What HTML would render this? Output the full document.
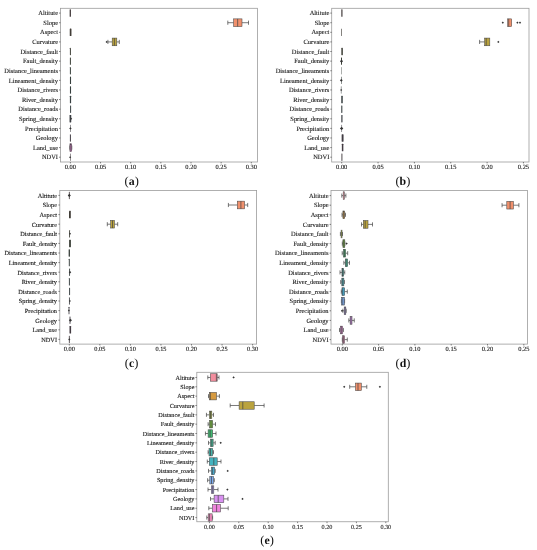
<!DOCTYPE html>
<html lang="en">
<head>
<meta charset="utf-8">
<title>Feature importance box plots</title>
<style>
html,body{margin:0;padding:0;background:#fff;}
body{width:537px;height:550px;overflow:hidden;}
svg{display:block;font-family:"Liberation Serif","DejaVu Serif",serif;text-rendering:geometricPrecision;}
.fr{fill:none;stroke:#9c9c9c;stroke-width:0.8;}
.tk{fill:none;stroke:#333;stroke-width:0.6;}
.w{fill:none;stroke:#404040;stroke-width:0.7;}
.b{stroke:#484848;stroke-width:0.55;}
.o{fill:#333;stroke:none;}
.yl{fill:#1a1a1a;text-anchor:end;stroke:#1a1a1a;stroke-width:0.12;}
.xl{fill:#1a1a1a;text-anchor:middle;stroke:#1a1a1a;stroke-width:0.12;}
.cap{font-size:12.4px;fill:#111;text-anchor:middle;}
.bd{font-weight:bold;font-size:11.8px;}
</style>
</head>
<body>
<svg width="537" height="550" viewBox="0 0 537 550">
<rect width="537" height="550" fill="#fff"/>
<g class="panel">
<rect x="69.65" y="9.36" width="1.3" height="7.48" rx="0.4" fill="#433c3d" opacity="1"/>
<path class="w" d="M227.8 22.71H233.6M227.8 20.63V24.78"/><path class="w" d="M242 22.71H248.5M248.5 20.63V24.78"/><rect class="b" x="233.6" y="18.87" width="8.4" height="7.68" fill="#f0906c"/><path class="w" d="M237.65 18.87V26.55"/>
<rect x="69.75" y="28.57" width="1.7" height="7.48" rx="0.4" fill="#413d37" opacity="1"/>
<path class="w" d="M107.9 41.92H112.2M107.9 39.85V44"/><path class="w" d="M116.8 41.92H119.3M119.3 39.85V44"/><rect class="b" x="112.2" y="38.08" width="4.6" height="7.68" fill="#baa33e"/><path class="w" d="M114.4 38.08V45.76"/><rect class="o" x="105.9" y="41.12" width="1.6" height="1.6" transform="rotate(45 106.7 41.92)"/>
<rect x="69.9" y="47.79" width="1" height="7.48" rx="0.4" fill="#3d3e36" opacity="1"/>
<rect x="69.9" y="57.39" width="1" height="7.48" rx="0.4" fill="#3a3f37" opacity="1"/>
<rect x="69.9" y="67" width="1" height="7.48" rx="0.4" fill="#373f3a" opacity="1"/>
<rect x="69.95" y="76.6" width="1.1" height="7.48" rx="0.4" fill="#373f3d" opacity="1"/>
<rect x="69.95" y="86.21" width="1.1" height="7.48" rx="0.4" fill="#373f3e" opacity="1"/>
<rect x="69.9" y="95.82" width="1.2" height="7.48" rx="0.4" fill="#373f40" opacity="1"/>
<rect x="70.1" y="105.42" width="1" height="7.48" rx="0.4" fill="#373f41" opacity="1"/>
<rect x="69.55" y="115.03" width="1.7" height="7.48" rx="0.4" fill="#3b3e43" opacity="1"/><rect class="o" x="70.35" y="118.02" width="1.5" height="1.5" transform="rotate(45 71.1 118.77)"/>
<rect x="70.05" y="124.64" width="0.7" height="7.48" rx="0.4" fill="#3f3d43" opacity="0.8"/><rect class="o" x="69.55" y="127.53" width="1.7" height="1.7" transform="rotate(45 70.4 128.38)"/>
<rect x="69.9" y="134.24" width="1" height="7.48" rx="0.4" fill="#413c43" opacity="1"/>
<path class="w" d="M69.8 147.59H69.9M69.8 145.52V149.67"/><path class="w" d="M71.7 147.59H71.8M71.8 145.52V149.67"/><rect class="b" x="69.9" y="143.75" width="1.8" height="7.68" fill="#ef84dc"/><path class="w" d="M70.8 143.75V151.43"/>
<rect x="70.05" y="153.45" width="0.7" height="7.48" rx="0.4" fill="#433c40" opacity="0.8"/><rect class="o" x="69.35" y="156.45" width="1.5" height="1.5" transform="rotate(45 70.1 157.2)"/>
<rect class="fr" x="60.4" y="8.3" width="197.15" height="153.7"/>
<text class="yl" x="58" y="15.25" font-size="6.45">Altitute</text>
<text class="yl" x="58" y="24.86" font-size="6.45">Slope</text>
<text class="yl" x="58" y="34.47" font-size="6.45">Aspect</text>
<text class="yl" x="58" y="44.07" font-size="6.45">Curvature</text>
<text class="yl" x="58" y="53.68" font-size="6.45">Distance_fault</text>
<text class="yl" x="58" y="63.28" font-size="6.45">Fault_density</text>
<text class="yl" x="58" y="72.89" font-size="6.45">Distance_lineaments</text>
<text class="yl" x="58" y="82.5" font-size="6.45">Lineament_density</text>
<text class="yl" x="58" y="92.1" font-size="6.45">Distance_rivers</text>
<text class="yl" x="58" y="101.71" font-size="6.45">River_density</text>
<text class="yl" x="58" y="111.32" font-size="6.45">Distance_roads</text>
<text class="yl" x="58" y="120.92" font-size="6.45">Spring_density</text>
<text class="yl" x="58" y="130.53" font-size="6.45">Precipitation</text>
<text class="yl" x="58" y="140.13" font-size="6.45">Geology</text>
<text class="yl" x="58" y="149.74" font-size="6.45">Land_use</text>
<text class="yl" x="58" y="159.35" font-size="6.45">NDVI</text>
<text class="xl" x="70.4" y="168.6" font-size="6.45">0.00</text>
<text class="xl" x="100.55" y="168.6" font-size="6.45">0.05</text>
<text class="xl" x="130.7" y="168.6" font-size="6.45">0.10</text>
<text class="xl" x="160.85" y="168.6" font-size="6.45">0.15</text>
<text class="xl" x="191" y="168.6" font-size="6.45">0.20</text>
<text class="xl" x="221.15" y="168.6" font-size="6.45">0.25</text>
<text class="xl" x="251.3" y="168.6" font-size="6.45">0.30</text>
<path class="tk" d="M60.4 13.1h-1.4M60.4 22.71h-1.4M60.4 32.32h-1.4M60.4 41.92h-1.4M60.4 51.53h-1.4M60.4 61.13h-1.4M60.4 70.74h-1.4M60.4 80.35h-1.4M60.4 89.95h-1.4M60.4 99.56h-1.4M60.4 109.17h-1.4M60.4 118.77h-1.4M60.4 128.38h-1.4M60.4 137.98h-1.4M60.4 147.59h-1.4M60.4 157.2h-1.4M70.4 162v1.4M100.55 162v1.4M130.7 162v1.4M160.85 162v1.4M191 162v1.4M221.15 162v1.4M251.3 162v1.4"/>
<text class="cap" x="131.7" y="185.1">(<tspan class="bd">a</tspan>)</text>
</g>
<g class="panel">
<rect x="341.3" y="9.36" width="1.2" height="7.48" rx="0.4" fill="#433c3d" opacity="1"/>
<rect class="b" x="507.7" y="18.87" width="4" height="7.68" fill="#f0906c"/><path class="w" d="M508.7 18.87V26.55"/><rect class="o" x="502" y="21.91" width="1.6" height="1.6" transform="rotate(45 502.8 22.71)"/><rect class="o" x="516.6" y="21.91" width="1.6" height="1.6" transform="rotate(45 517.4 22.71)"/><rect class="o" x="519.2" y="21.91" width="1.6" height="1.6" transform="rotate(45 520 22.71)"/>
<rect x="341.1" y="28.57" width="0.8" height="7.48" rx="0.4" fill="#413d37" opacity="0.8"/>
<path class="w" d="M479.6 41.92H484.7M479.6 39.85V44"/><rect class="b" x="484.7" y="38.08" width="5.1" height="7.68" fill="#baa33e"/><path class="w" d="M486.2 38.08V45.76"/><rect class="o" x="497.5" y="41.12" width="1.6" height="1.6" transform="rotate(45 498.3 41.92)"/>
<rect x="341.35" y="47.79" width="1.5" height="7.48" rx="0.4" fill="#3d3e36" opacity="1"/>
<rect x="341" y="57.39" width="1" height="7.48" rx="0.4" fill="#3a3f37" opacity="1"/><rect class="o" x="340.4" y="60.03" width="2.2" height="2.2" transform="rotate(45 341.5 61.13)"/>
<rect x="341.2" y="67" width="0.6" height="7.48" rx="0.4" fill="#373f3a" opacity="0.7"/>
<rect x="341.05" y="76.6" width="0.7" height="7.48" rx="0.4" fill="#373f3d" opacity="0.8"/><rect class="o" x="340.3" y="79.35" width="2" height="2" transform="rotate(45 341.3 80.35)"/>
<rect x="340.85" y="86.21" width="0.7" height="7.48" rx="0.4" fill="#373f3e" opacity="0.7"/><rect class="o" x="340.5" y="89.25" width="1.4" height="1.4" transform="rotate(45 341.2 89.95)"/>
<rect x="341.25" y="95.82" width="1.5" height="7.48" rx="0.4" fill="#373f40" opacity="1"/>
<rect x="341.25" y="105.42" width="1.1" height="7.48" rx="0.4" fill="#373f41" opacity="1"/>
<rect x="341.3" y="115.03" width="1.2" height="7.48" rx="0.4" fill="#3b3e43" opacity="1"/>
<rect x="341.35" y="124.64" width="0.7" height="7.48" rx="0.4" fill="#3f3d43" opacity="0.8"/><rect class="o" x="340.4" y="127.18" width="2.4" height="2.4" transform="rotate(45 341.6 128.38)"/>
<rect x="341.65" y="134.24" width="1.9" height="7.48" rx="0.4" fill="#413c43" opacity="1"/>
<rect x="341.85" y="143.85" width="1.5" height="7.48" rx="0.4" fill="#433b42" opacity="1"/>
<rect x="341.35" y="153.45" width="1.1" height="7.48" rx="0.4" fill="#433c40" opacity="0.85"/>
<rect class="fr" x="331.7" y="8.3" width="197.3" height="153.7"/>
<text class="yl" x="329.3" y="15.25" font-size="6.45">Altitute</text>
<text class="yl" x="329.3" y="24.86" font-size="6.45">Slope</text>
<text class="yl" x="329.3" y="34.47" font-size="6.45">Aspect</text>
<text class="yl" x="329.3" y="44.07" font-size="6.45">Curvature</text>
<text class="yl" x="329.3" y="53.68" font-size="6.45">Distance_fault</text>
<text class="yl" x="329.3" y="63.28" font-size="6.45">Fault_density</text>
<text class="yl" x="329.3" y="72.89" font-size="6.45">Distance_lineaments</text>
<text class="yl" x="329.3" y="82.5" font-size="6.45">Lineament_density</text>
<text class="yl" x="329.3" y="92.1" font-size="6.45">Distance_rivers</text>
<text class="yl" x="329.3" y="101.71" font-size="6.45">River_density</text>
<text class="yl" x="329.3" y="111.32" font-size="6.45">Distance_roads</text>
<text class="yl" x="329.3" y="120.92" font-size="6.45">Spring_density</text>
<text class="yl" x="329.3" y="130.53" font-size="6.45">Precipitation</text>
<text class="yl" x="329.3" y="140.13" font-size="6.45">Geology</text>
<text class="yl" x="329.3" y="149.74" font-size="6.45">Land_use</text>
<text class="yl" x="329.3" y="159.35" font-size="6.45">NDVI</text>
<text class="xl" x="341.7" y="168.8" font-size="6.45">0.00</text>
<text class="xl" x="378.05" y="168.8" font-size="6.45">0.05</text>
<text class="xl" x="414.4" y="168.8" font-size="6.45">0.10</text>
<text class="xl" x="450.75" y="168.8" font-size="6.45">0.15</text>
<text class="xl" x="487.1" y="168.8" font-size="6.45">0.20</text>
<text class="xl" x="523.45" y="168.8" font-size="6.45">0.25</text>
<path class="tk" d="M331.7 13.1h-1.4M331.7 22.71h-1.4M331.7 32.32h-1.4M331.7 41.92h-1.4M331.7 51.53h-1.4M331.7 61.13h-1.4M331.7 70.74h-1.4M331.7 80.35h-1.4M331.7 89.95h-1.4M331.7 99.56h-1.4M331.7 109.17h-1.4M331.7 118.77h-1.4M331.7 128.38h-1.4M331.7 137.98h-1.4M331.7 147.59h-1.4M331.7 157.2h-1.4M341.7 162v1.4M378.05 162v1.4M414.4 162v1.4M450.75 162v1.4M487.1 162v1.4M523.45 162v1.4"/>
<text class="cap" x="402.9" y="185">(<tspan class="bd">b</tspan>)</text>
</g>
<g class="panel">
<rect x="68.88" y="191.66" width="0.85" height="7.48" rx="0.4" fill="#433c3d" opacity="1"/><rect class="o" x="68.2" y="194.3" width="2.2" height="2.2" transform="rotate(45 69.3 195.4)"/>
<path class="w" d="M228.4 205H237.3M228.4 202.93V207.07"/><path class="w" d="M244.6 205H247.7M247.7 202.93V207.07"/><rect class="b" x="237.3" y="201.16" width="7.3" height="7.68" fill="#f0906c"/><path class="w" d="M240.9 201.16V208.84"/>
<rect x="69" y="210.86" width="1.8" height="7.48" rx="0.4" fill="#413d37" opacity="1"/>
<path class="w" d="M107.3 224.2H110.7M107.3 222.13V226.27"/><path class="w" d="M114.4 224.2H117.7M117.7 222.13V226.27"/><rect class="b" x="110.7" y="220.36" width="3.7" height="7.68" fill="#baa33e"/><path class="w" d="M112.5 220.36V228.04"/>
<rect x="69.17" y="230.06" width="0.85" height="7.48" rx="0.4" fill="#3d3e36" opacity="1"/><rect class="o" x="69.25" y="233.05" width="1.5" height="1.5" transform="rotate(45 70 233.8)"/>
<rect x="69.1" y="239.66" width="1.8" height="7.48" rx="0.4" fill="#3a3f37" opacity="1"/>
<rect x="68.65" y="249.26" width="1.3" height="7.48" rx="0.4" fill="#373f3a" opacity="1"/>
<rect x="68.83" y="258.86" width="0.95" height="7.48" rx="0.4" fill="#373f3d" opacity="1"/>
<rect x="69.15" y="268.46" width="0.9" height="7.48" rx="0.4" fill="#373f3e" opacity="1"/><rect class="o" x="69.1" y="271.3" width="1.8" height="1.8" transform="rotate(45 70 272.2)"/>
<rect x="68.92" y="278.06" width="0.95" height="7.48" rx="0.4" fill="#373f40" opacity="1"/>
<rect x="69.12" y="287.66" width="0.95" height="7.48" rx="0.4" fill="#373f41" opacity="1"/>
<rect x="68.97" y="297.26" width="0.85" height="7.48" rx="0.4" fill="#3b3e43" opacity="1"/><rect class="o" x="69.2" y="300.3" width="1.4" height="1.4" transform="rotate(45 69.9 301)"/>
<rect x="68.58" y="306.86" width="0.85" height="7.48" rx="0.4" fill="#3f3d43" opacity="1"/><rect class="o" x="68.2" y="309.9" width="1.4" height="1.4" transform="rotate(45 68.9 310.6)"/>
<rect x="69.55" y="316.46" width="0.9" height="7.48" rx="0.4" fill="#413c43" opacity="1"/><rect class="o" x="69.3" y="319.1" width="2.2" height="2.2" transform="rotate(45 70.4 320.2)"/>
<rect x="69.5" y="326.06" width="1.6" height="7.48" rx="0.4" fill="#433b42" opacity="1"/>
<rect x="68.88" y="335.66" width="0.85" height="7.48" rx="0.4" fill="#433c40" opacity="1"/><rect class="o" x="68.55" y="338.65" width="1.5" height="1.5" transform="rotate(45 69.3 339.4)"/>
<rect class="fr" x="59.8" y="190.5" width="196.8" height="153.6"/>
<text class="yl" x="57" y="197.8" font-size="6.3">Altitute</text>
<text class="yl" x="57" y="207.4" font-size="6.3">Slope</text>
<text class="yl" x="57" y="217" font-size="6.3">Aspect</text>
<text class="yl" x="57" y="226.6" font-size="6.3">Curvature</text>
<text class="yl" x="57" y="236.2" font-size="6.3">Distance_fault</text>
<text class="yl" x="57" y="245.8" font-size="6.3">Fault_density</text>
<text class="yl" x="57" y="255.4" font-size="6.3">Distance_lineaments</text>
<text class="yl" x="57" y="265" font-size="6.3">Lineament_density</text>
<text class="yl" x="57" y="274.6" font-size="6.3">Distance_rivers</text>
<text class="yl" x="57" y="284.2" font-size="6.3">River_density</text>
<text class="yl" x="57" y="293.8" font-size="6.3">Distance_roads</text>
<text class="yl" x="57" y="303.4" font-size="6.3">Spring_density</text>
<text class="yl" x="57" y="313" font-size="6.3">Precipitation</text>
<text class="yl" x="57" y="322.6" font-size="6.3">Geology</text>
<text class="yl" x="57" y="332.2" font-size="6.3">Land_use</text>
<text class="yl" x="57" y="341.8" font-size="6.3">NDVI</text>
<text class="xl" x="69.3" y="350.7" font-size="6.3">0.00</text>
<text class="xl" x="99.85" y="350.7" font-size="6.3">0.05</text>
<text class="xl" x="130.4" y="350.7" font-size="6.3">0.10</text>
<text class="xl" x="160.95" y="350.7" font-size="6.3">0.15</text>
<text class="xl" x="191.5" y="350.7" font-size="6.3">0.20</text>
<text class="xl" x="222.05" y="350.7" font-size="6.3">0.25</text>
<text class="xl" x="252.6" y="350.7" font-size="6.3">0.30</text>
<path class="tk" d="M59.8 195.4h-1.4M59.8 205h-1.4M59.8 214.6h-1.4M59.8 224.2h-1.4M59.8 233.8h-1.4M59.8 243.4h-1.4M59.8 253h-1.4M59.8 262.6h-1.4M59.8 272.2h-1.4M59.8 281.8h-1.4M59.8 291.4h-1.4M59.8 301h-1.4M59.8 310.6h-1.4M59.8 320.2h-1.4M59.8 329.8h-1.4M59.8 339.4h-1.4M69.3 344.1v1.4M99.85 344.1v1.4M130.4 344.1v1.4M160.95 344.1v1.4M191.5 344.1v1.4M222.05 344.1v1.4M252.6 344.1v1.4"/>
<text class="cap" x="131.6" y="366.8">(<tspan class="bd">c</tspan>)</text>
</g>
<g class="panel">
<path class="w" d="M341.8 195.6H343.2M341.8 193.53V197.67"/><path class="w" d="M344.3 195.6H345.9M345.9 193.53V197.67"/><rect class="b" x="343.2" y="191.76" width="1.1" height="7.68" fill="#f28e9e"/>
<path class="w" d="M502.05 205.2H506.8M502.05 203.13V207.27"/><path class="w" d="M513.4 205.2H518.9M518.9 203.13V207.27"/><rect class="b" x="506.8" y="201.36" width="6.6" height="7.68" fill="#f0906c"/><path class="w" d="M510.1 201.36V209.04"/>
<path class="w" d="M342 214.8H342.9M342 212.73V216.87"/><path class="w" d="M344.6 214.8H345.5M345.5 212.73V216.87"/><rect class="b" x="342.9" y="210.96" width="1.7" height="7.68" fill="#d69a40"/><path class="w" d="M343.8 210.96V218.64"/>
<path class="w" d="M361.5 224.4H363.3M361.5 222.33V226.47"/><path class="w" d="M368 224.4H372.5M372.5 222.33V226.47"/><rect class="b" x="363.3" y="220.56" width="4.7" height="7.68" fill="#baa33e"/><path class="w" d="M365.2 220.56V228.24"/>
<path class="w" d="M340.4 234H341.1M340.4 231.93V236.07"/><path class="w" d="M342 234H342.5M342.5 231.93V236.07"/><rect class="b" x="341.1" y="230.16" width="0.9" height="7.68" fill="#9faa3d"/>
<path class="w" d="M342.3 243.6H342.9M342.3 241.53V245.67"/><path class="w" d="M344.8 243.6H344.9M344.9 241.53V245.67"/><rect class="b" x="342.9" y="239.76" width="1.9" height="7.68" fill="#75b43e"/><path class="w" d="M343.8 239.76V247.44"/><rect class="o" x="345.8" y="242.8" width="1.6" height="1.6" transform="rotate(45 346.6 243.6)"/>
<path class="w" d="M342.2 253.2H343.5M342.2 251.13V255.27"/><path class="w" d="M345.6 253.2H347.7M347.7 251.13V255.27"/><rect class="b" x="343.5" y="249.36" width="2.1" height="7.68" fill="#3fb870"/><path class="w" d="M344.4 249.36V257.04"/>
<path class="w" d="M343.85 262.8H345.4M343.85 260.73V264.87"/><path class="w" d="M347.7 262.8H349.5M349.5 260.73V264.87"/><rect class="b" x="345.4" y="258.96" width="2.3" height="7.68" fill="#41b696"/><path class="w" d="M346.1 258.96V266.64"/>
<path class="w" d="M340 272.4H341.95M340 270.33V274.47"/><path class="w" d="M343.7 272.4H344.75M344.75 270.33V274.47"/><rect class="b" x="341.95" y="268.56" width="1.75" height="7.68" fill="#42b4ac"/><path class="w" d="M342.6 268.56V276.24"/>
<path class="w" d="M340.7 282H341.8M340.7 279.93V284.07"/><path class="w" d="M343.85 282H344.4M344.4 279.93V284.07"/><rect class="b" x="341.8" y="278.16" width="2.05" height="7.68" fill="#44b3bf"/><path class="w" d="M342.7 278.16V285.84"/>
<path class="w" d="M341.3 291.6H341.95M341.3 289.53V293.67"/><path class="w" d="M344.7 291.6H347.3M347.3 289.53V293.67"/><rect class="b" x="341.95" y="287.76" width="2.75" height="7.68" fill="#47b2d9"/><path class="w" d="M342.8 287.76V295.44"/>
<path class="w" d="M341.4 301.2H341.5M341.4 299.13V303.27"/><path class="w" d="M344.5 301.2H344.6M344.6 299.13V303.27"/><rect class="b" x="341.5" y="297.36" width="3" height="7.68" fill="#7facef"/><path class="w" d="M342.8 297.36V305.04"/>
<path class="w" d="M342.85 310.8H344.2M342.85 308.73V312.87"/><path class="w" d="M345.8 310.8H346.2M346.2 308.73V312.87"/><rect class="b" x="344.2" y="306.96" width="1.6" height="7.68" fill="#b3a1f1"/><path class="w" d="M345 306.96V314.64"/><rect class="o" x="341.2" y="310" width="1.6" height="1.6" transform="rotate(45 342 310.8)"/>
<path class="w" d="M348.8 320.4H350.1M348.8 318.33V322.47"/><path class="w" d="M352 320.4H354.25M354.25 318.33V322.47"/><rect class="b" x="350.1" y="316.56" width="1.9" height="7.68" fill="#d890f0"/><path class="w" d="M351 316.56V324.24"/>
<path class="w" d="M339.5 330H340.4M339.5 327.93V332.07"/><path class="w" d="M342.6 330H343.4M343.4 327.93V332.07"/><rect class="b" x="340.4" y="326.16" width="2.2" height="7.68" fill="#ef84dc"/><path class="w" d="M341.4 326.16V333.84"/>
<path class="w" d="M342.3 339.6H342.6M342.3 337.53V341.67"/><path class="w" d="M344.5 339.6H347.3M347.3 337.53V341.67"/><rect class="b" x="342.6" y="335.76" width="1.9" height="7.68" fill="#f18abe"/><path class="w" d="M343.4 335.76V343.44"/>
<rect class="fr" x="331" y="190.5" width="196.5" height="153.6"/>
<text class="yl" x="328.6" y="197.75" font-size="6.45">Altitute</text>
<text class="yl" x="328.6" y="207.35" font-size="6.45">Slope</text>
<text class="yl" x="328.6" y="216.95" font-size="6.45">Aspect</text>
<text class="yl" x="328.6" y="226.55" font-size="6.45">Curvature</text>
<text class="yl" x="328.6" y="236.15" font-size="6.45">Distance_fault</text>
<text class="yl" x="328.6" y="245.75" font-size="6.45">Fault_density</text>
<text class="yl" x="328.6" y="255.35" font-size="6.45">Distance_lineaments</text>
<text class="yl" x="328.6" y="264.95" font-size="6.45">Lineament_density</text>
<text class="yl" x="328.6" y="274.55" font-size="6.45">Distance_rivers</text>
<text class="yl" x="328.6" y="284.15" font-size="6.45">River_density</text>
<text class="yl" x="328.6" y="293.75" font-size="6.45">Distance_roads</text>
<text class="yl" x="328.6" y="303.35" font-size="6.45">Spring_density</text>
<text class="yl" x="328.6" y="312.95" font-size="6.45">Precipitation</text>
<text class="yl" x="328.6" y="322.55" font-size="6.45">Geology</text>
<text class="yl" x="328.6" y="332.15" font-size="6.45">Land_use</text>
<text class="yl" x="328.6" y="341.75" font-size="6.45">NDVI</text>
<text class="xl" x="342.3" y="350.95" font-size="6.45">0.00</text>
<text class="xl" x="378.6" y="350.95" font-size="6.45">0.05</text>
<text class="xl" x="414.9" y="350.95" font-size="6.45">0.10</text>
<text class="xl" x="451.2" y="350.95" font-size="6.45">0.15</text>
<text class="xl" x="487.5" y="350.95" font-size="6.45">0.20</text>
<text class="xl" x="523.8" y="350.95" font-size="6.45">0.25</text>
<path class="tk" d="M331 195.6h-1.4M331 205.2h-1.4M331 214.8h-1.4M331 224.4h-1.4M331 234h-1.4M331 243.6h-1.4M331 253.2h-1.4M331 262.8h-1.4M331 272.4h-1.4M331 282h-1.4M331 291.6h-1.4M331 301.2h-1.4M331 310.8h-1.4M331 320.4h-1.4M331 330h-1.4M331 339.6h-1.4M342.3 344.1v1.4M378.6 344.1v1.4M414.9 344.1v1.4M451.2 344.1v1.4M487.5 344.1v1.4M523.8 344.1v1.4"/>
<text class="cap" x="403" y="366.8">(<tspan class="bd">d</tspan>)</text>
</g>
<g class="panel">
<path class="w" d="M207.8 377.47H210.4M207.8 375.45V379.49"/><path class="w" d="M217.2 377.47H219M219 375.45V379.49"/><rect class="b" x="210.4" y="373.73" width="6.8" height="7.47" fill="#f28e9e"/><path class="w" d="M216.4 373.73V381.21"/><rect class="o" x="232.8" y="376.67" width="1.6" height="1.6" transform="rotate(45 233.6 377.47)"/>
<path class="w" d="M349.7 386.81H355.5M349.7 384.79V388.83"/><path class="w" d="M361.3 386.81H366.8M366.8 384.79V388.83"/><rect class="b" x="355.5" y="383.07" width="5.8" height="7.47" fill="#f0906c"/><path class="w" d="M358 383.07V390.55"/><rect class="o" x="343.4" y="386.01" width="1.6" height="1.6" transform="rotate(45 344.2 386.81)"/><rect class="o" x="379.1" y="386.01" width="1.6" height="1.6" transform="rotate(45 379.9 386.81)"/>
<path class="w" d="M208.5 396.15H209.5M208.5 394.13V398.17"/><path class="w" d="M216.5 396.15H219.4M219.4 394.13V398.17"/><rect class="b" x="209.5" y="392.42" width="7" height="7.47" fill="#d69a40"/><path class="w" d="M210.3 392.42V399.89"/>
<path class="w" d="M230.2 405.49H239.1M230.2 403.47V407.51"/><path class="w" d="M254.2 405.49H264.1M264.1 403.47V407.51"/><rect class="b" x="239.1" y="401.76" width="15.1" height="7.47" fill="#baa33e"/><path class="w" d="M242.8 401.76V409.23"/>
<path class="w" d="M206.45 414.83H209.5M206.45 412.82V416.85"/><path class="w" d="M211.8 414.83H213.5M213.5 412.82V416.85"/><rect class="b" x="209.5" y="411.1" width="2.3" height="7.47" fill="#9faa3d"/><path class="w" d="M210.5 411.1V418.57"/>
<path class="w" d="M208.1 424.17H209.5M208.1 422.16V426.19"/><path class="w" d="M212.65 424.17H215.5M215.5 422.16V426.19"/><rect class="b" x="209.5" y="420.44" width="3.15" height="7.47" fill="#75b43e"/><path class="w" d="M211 420.44V427.91"/>
<path class="w" d="M205.45 433.51H208.1M205.45 431.5V435.53"/><path class="w" d="M212.65 433.51H216M216 431.5V435.53"/><rect class="b" x="208.1" y="429.78" width="4.55" height="7.47" fill="#3fb870"/><path class="w" d="M210.1 429.78V437.25"/>
<path class="w" d="M208.5 442.85H210.5M208.5 440.84V444.87"/><path class="w" d="M213.15 442.85H215.2M215.2 440.84V444.87"/><rect class="b" x="210.5" y="439.12" width="2.65" height="7.47" fill="#41b696"/><path class="w" d="M211.8 439.12V446.59"/><rect class="o" x="219.9" y="442.05" width="1.6" height="1.6" transform="rotate(45 220.7 442.85)"/>
<path class="w" d="M208.1 452.2H209M208.1 450.18V454.21"/><path class="w" d="M212.65 452.2H213.5M213.5 450.18V454.21"/><rect class="b" x="209" y="448.46" width="3.65" height="7.47" fill="#42b4ac"/><path class="w" d="M210.5 448.46V455.93"/>
<path class="w" d="M207.3 461.54H209.3M207.3 459.52V463.55"/><path class="w" d="M217.2 461.54H221M221 459.52V463.55"/><rect class="b" x="209.3" y="457.8" width="7.9" height="7.47" fill="#44b3bf"/><path class="w" d="M213.8 457.8V465.27"/>
<path class="w" d="M208.5 470.88H211.3M208.5 468.86V472.89"/><path class="w" d="M214.7 470.88H215.2M215.2 468.86V472.89"/><rect class="b" x="211.3" y="467.14" width="3.4" height="7.47" fill="#47b2d9"/><path class="w" d="M212.65 467.14V474.61"/><rect class="o" x="226.9" y="470.08" width="1.6" height="1.6" transform="rotate(45 227.7 470.88)"/>
<path class="w" d="M207.6 480.22H209.8M207.6 478.2V482.23"/><path class="w" d="M213.5 480.22H214.3M214.3 478.2V482.23"/><rect class="b" x="209.8" y="476.48" width="3.7" height="7.47" fill="#7facef"/><path class="w" d="M211.5 476.48V483.95"/>
<path class="w" d="M208 489.56H211.3M208 487.54V491.58"/><path class="w" d="M213.8 489.56H218M218 487.54V491.58"/><rect class="b" x="211.3" y="485.82" width="2.5" height="7.47" fill="#b3a1f1"/><path class="w" d="M212.65 485.82V493.29"/><rect class="o" x="226.6" y="488.76" width="1.6" height="1.6" transform="rotate(45 227.4 489.56)"/>
<path class="w" d="M210.5 498.9H214.1M210.5 496.88V500.92"/><path class="w" d="M223.8 498.9H228M228 496.88V500.92"/><rect class="b" x="214.1" y="495.16" width="9.7" height="7.47" fill="#d890f0"/><path class="w" d="M218.2 495.16V502.63"/><rect class="o" x="241.7" y="498.1" width="1.6" height="1.6" transform="rotate(45 242.5 498.9)"/>
<path class="w" d="M208.8 508.24H212.4M208.8 506.22V510.26"/><path class="w" d="M220.5 508.24H228.2M228.2 506.22V510.26"/><rect class="b" x="212.4" y="504.5" width="8.1" height="7.47" fill="#ef84dc"/><path class="w" d="M216.6 504.5V511.98"/>
<path class="w" d="M206.8 517.58H208.2M206.8 515.56V519.6"/><path class="w" d="M212.15 517.58H212.6M212.6 515.56V519.6"/><rect class="b" x="208.2" y="513.84" width="3.95" height="7.47" fill="#f18abe"/><path class="w" d="M209.6 513.84V521.32"/>
<rect class="fr" x="196.8" y="372.3" width="191.5" height="149.45"/>
<text class="yl" x="194.4" y="379.54" font-size="6.2">Altitute</text>
<text class="yl" x="194.4" y="388.88" font-size="6.2">Slope</text>
<text class="yl" x="194.4" y="398.22" font-size="6.2">Aspect</text>
<text class="yl" x="194.4" y="407.56" font-size="6.2">Curvature</text>
<text class="yl" x="194.4" y="416.9" font-size="6.2">Distance_fault</text>
<text class="yl" x="194.4" y="426.24" font-size="6.2">Fault_density</text>
<text class="yl" x="194.4" y="435.58" font-size="6.2">Distance_lineaments</text>
<text class="yl" x="194.4" y="444.92" font-size="6.2">Lineament_density</text>
<text class="yl" x="194.4" y="454.26" font-size="6.2">Distance_rivers</text>
<text class="yl" x="194.4" y="463.6" font-size="6.2">River_density</text>
<text class="yl" x="194.4" y="472.94" font-size="6.2">Distance_roads</text>
<text class="yl" x="194.4" y="482.28" font-size="6.2">Spring_density</text>
<text class="yl" x="194.4" y="491.62" font-size="6.2">Precipitation</text>
<text class="yl" x="194.4" y="500.97" font-size="6.2">Geology</text>
<text class="yl" x="194.4" y="510.31" font-size="6.2">Land_use</text>
<text class="yl" x="194.4" y="519.65" font-size="6.2">NDVI</text>
<text class="xl" x="209.4" y="528.75" font-size="6.2">0.00</text>
<text class="xl" x="238.8" y="528.75" font-size="6.2">0.05</text>
<text class="xl" x="268.2" y="528.75" font-size="6.2">0.10</text>
<text class="xl" x="297.6" y="528.75" font-size="6.2">0.15</text>
<text class="xl" x="327" y="528.75" font-size="6.2">0.20</text>
<text class="xl" x="356.4" y="528.75" font-size="6.2">0.25</text>
<text class="xl" x="385.8" y="528.75" font-size="6.2">0.30</text>
<path class="tk" d="M196.8 377.47h-1.4M196.8 386.81h-1.4M196.8 396.15h-1.4M196.8 405.49h-1.4M196.8 414.83h-1.4M196.8 424.17h-1.4M196.8 433.51h-1.4M196.8 442.85h-1.4M196.8 452.2h-1.4M196.8 461.54h-1.4M196.8 470.88h-1.4M196.8 480.22h-1.4M196.8 489.56h-1.4M196.8 498.9h-1.4M196.8 508.24h-1.4M196.8 517.58h-1.4M209.4 521.75v1.4M238.8 521.75v1.4M268.2 521.75v1.4M297.6 521.75v1.4M327 521.75v1.4M356.4 521.75v1.4M385.8 521.75v1.4"/>
<text class="cap" x="267.1" y="543.7">(<tspan class="bd">e</tspan>)</text>
</g>
</svg>
</body>
</html>
